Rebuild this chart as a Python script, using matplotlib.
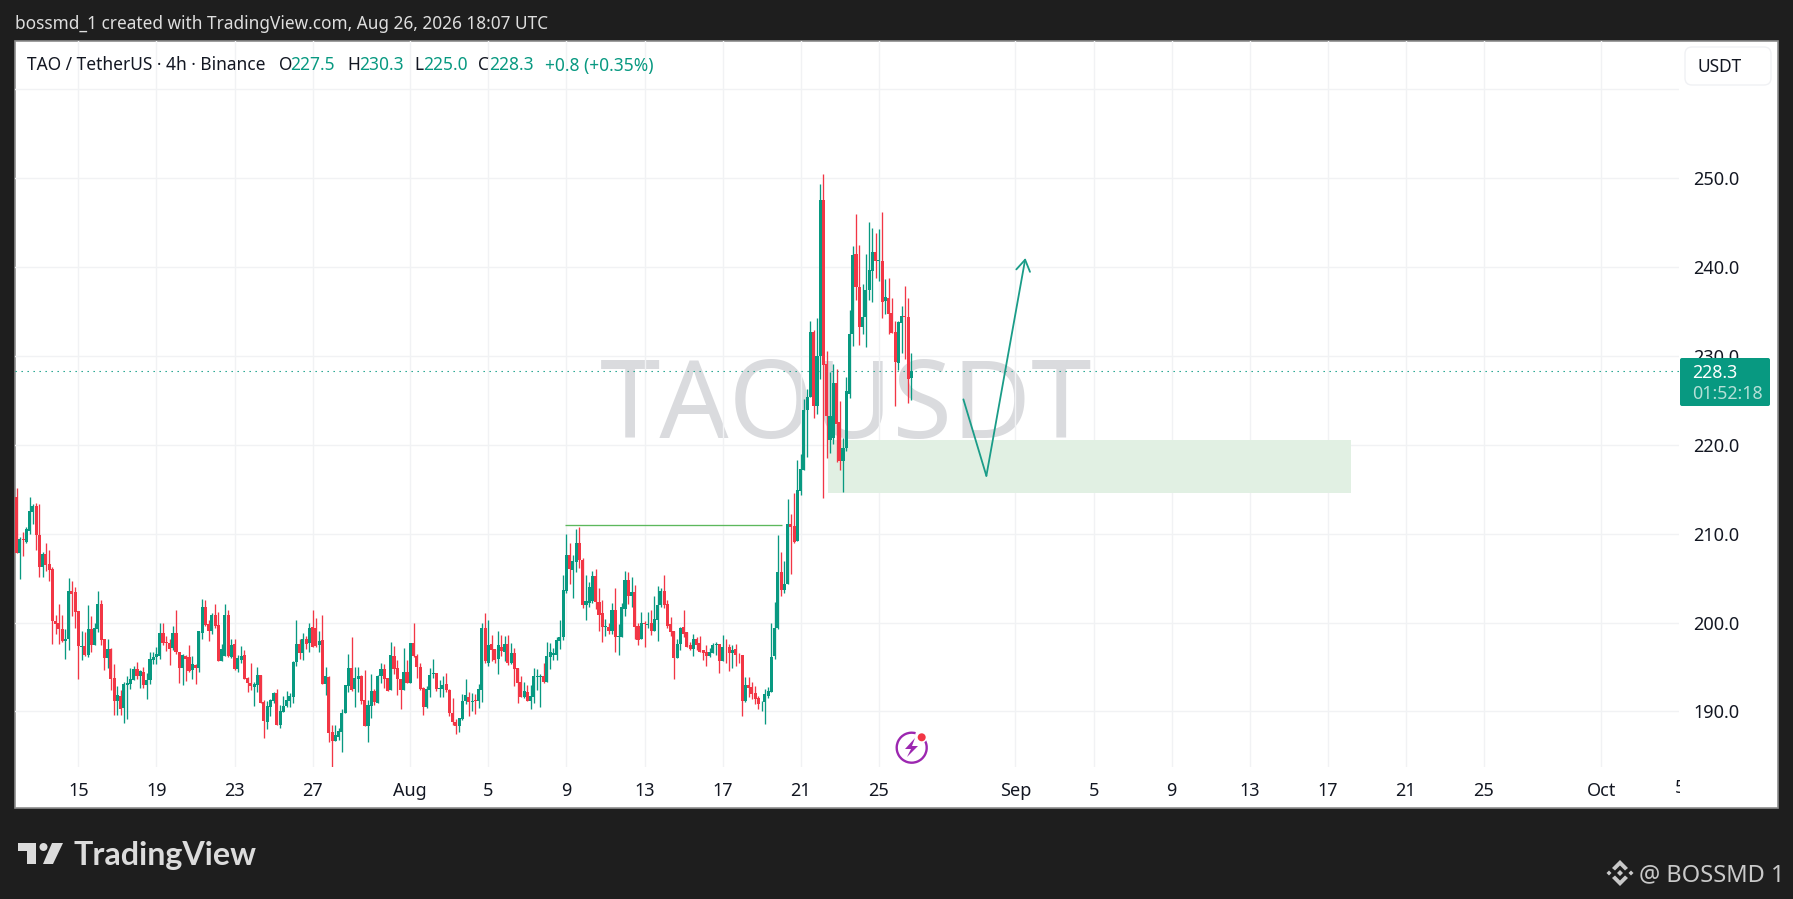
import numpy as np
import pandas as pd
import matplotlib
matplotlib.use("Agg")
import matplotlib.pyplot as plt
import matplotlib.dates as mdates
from matplotlib.patches import Rectangle, FancyBboxPatch, Polygon, Circle, Arc
from matplotlib.transforms import Bbox

# ---------- data ----------
first_candle = "2026-07-11 20:00"
opens = [214.1,207.8,209.4,209.1,210.3,212.4,213.1,209.9,206.3,207.7,
206.6,206.0,200.2,200.0,199.3,197.9,198.1,203.6,203.4,201.3,
197.2,197.4,196.3,199.3,197.5,199.3,202.1,198.1,196.0,197.0,
193.8,191.2,191.7,190.4,193.0,193.1,193.5,194.8,194.0,194.4,
193.0,193.5,195.8,196.1,196.2,198.8,197.8,197.7,197.1,198.8,
196.7,194.9,196.2,196.1,194.7,195.2,194.9,198.8,201.7,199.8,
199.1,200.8,199.7,195.7,196.2,200.9,196.1,197.6,194.8,195.8,
196.3,193.8,193.2,192.7,193.0,194.1,191.1,188.8,190.5,191.2,
192.1,188.5,189.9,190.6,191.2,191.6,195.6,197.6,196.6,198.2,
197.7,199.5,199.4,197.5,198.0,193.1,193.9,187.7,186.7,187.1,
187.7,189.8,192.9,194.9,192.5,193.6,194.0,191.3,188.4,190.6,
192.3,190.9,194.0,194.8,193.8,192.4,196.2,194.9,193.6,192.4,
194.4,193.2,197.7,196.2,195.0,192.6,190.5,192.4,194.2,194.3,
192.5,192.5,193.1,192.4,189.8,188.8,188.4,189.1,191.2,191.6,
191.1,191.3,191.2,192.4,199.4,195.5,197.6,197.0,195.9,197.3,
196.7,197.6,195.5,196.6,194.9,193.3,191.6,192.2,191.2,191.6,
193.9,193.9,194.0,193.3,196.1,196.4,196.4,197.9,198.4,203.6,
207.6,205.9,206.8,208.9,207.0,202.0,202.2,202.4,205.2,202.3,
201.1,199.5,199.5,199.1,201.4,198.4,198.4,201.5,204.8,203.0,
203.4,199.6,198.1,199.9,199.7,199.9,199.1,200.3,202.0,203.6,
202.1,199.8,199.0,196.0,197.6,199.5,198.9,197.5,197.0,198.1,
197.7,196.9,196.7,196.2,196.6,197.5,197.6,195.7,197.3,197.2,
196.6,197.0,196.4,196.3,191.2,193.0,192.7,192.1,191.5,190.9,
191.1,191.7,192.2,196.2,199.4,205.7,203.7,204.3,211.1,210.9,
209.2,214.8,217.2,223.9,225.4,232.7,224.4,230.0,247.5,229.1,
220.5,220.7,226.9,222.5,218.2,219.6,225.7,232.5,241.4,237.7,
233.2,234.4,237.4,239.5,241.7,240.7,240.7,236.2,236.5,234.8,
232.7,229.2,233.7,234.5,234.4,227.5]
highs = [215.1,209.6,210.2,210.8,214.1,213.3,213.5,213.3,207.9,209.0,
208.2,206.3,200.8,202.1,200.8,199.3,205.0,204.7,204.0,201.3,
199.1,198.9,202.0,200.7,199.9,203.5,202.5,198.2,198.1,197.1,
195.3,192.9,192.4,193.3,194.0,194.9,195.1,195.6,194.7,195.0,
194.3,196.7,196.7,197.2,199.9,200.0,198.5,198.1,199.6,201.4,
196.7,196.5,196.3,197.5,196.2,195.3,199.0,202.7,202.5,200.3,
201.1,202.1,201.2,197.6,202.1,201.4,198.1,198.1,196.3,197.4,
196.9,193.9,195.4,193.3,195.0,194.1,191.3,191.2,191.4,192.2,
192.5,190.7,191.7,192.3,192.1,195.7,200.3,198.1,198.8,198.5,
200.0,201.4,200.5,199.0,200.8,195.0,194.0,188.5,188.5,188.1,
190.3,193.0,196.5,198.4,195.0,195.0,194.1,194.7,191.3,194.2,
192.5,194.1,195.4,195.3,193.8,197.8,197.4,195.8,193.6,197.1,
195.8,197.7,199.9,196.5,195.4,192.7,192.9,194.9,195.9,194.3,
193.5,194.0,194.3,192.5,191.5,189.1,189.3,192.0,193.6,192.2,
192.1,192.0,193.1,200.0,201.1,200.3,198.6,197.0,199.0,198.6,
198.5,198.6,197.7,197.1,194.9,194.0,193.3,193.0,193.0,194.9,
194.8,194.2,195.4,197.8,197.7,197.1,198.4,200.3,205.4,210.0,
209.0,207.6,210.5,210.8,207.3,205.3,204.6,205.8,206.0,203.9,
202.5,200.4,199.9,202.2,203.9,199.8,202.2,205.8,205.7,205.1,
204.2,199.9,201.2,200.2,201.2,201.4,203.0,204.1,203.9,205.3,
202.5,200.6,199.1,198.2,199.5,201.4,198.9,197.8,198.7,198.4,
198.5,196.9,197.5,197.1,197.7,197.8,197.6,198.6,198.2,197.6,
197.5,197.6,196.6,196.3,193.9,193.9,193.3,192.9,191.7,191.2,
192.5,192.7,200.0,202.3,209.9,207.9,206.9,213.9,212.2,214.6,
218.3,218.9,225.1,226.3,233.9,232.9,234.3,249.3,250.4,230.5,
228.2,229.1,228.5,224.9,220.8,227.6,235.1,242.3,246.0,242.5,
238.1,241.5,245.0,244.4,243.8,244.3,246.2,238.6,238.8,236.5,
233.9,233.9,235.6,237.8,236.5,230.3]
lows = [207.8,204.9,207.5,209.0,210.0,211.1,208.2,205.1,205.1,205.8,
204.7,197.6,198.7,197.6,197.8,195.9,196.9,200.7,199.4,193.6,
195.8,196.2,196.1,196.7,197.5,198.9,197.5,194.7,194.9,192.4,
189.6,189.6,189.6,188.7,189.1,192.5,193.5,193.6,192.6,192.6,
191.4,193.1,195.3,195.3,195.9,197.5,196.8,195.2,196.9,196.5,
193.2,193.0,193.4,194.4,193.6,193.1,194.4,198.2,199.6,197.9,
198.7,199.4,195.7,195.7,196.2,196.1,196.0,194.7,194.4,195.4,
193.6,192.2,192.4,190.6,192.2,190.9,187.0,188.0,189.5,190.9,
188.5,188.1,189.9,190.5,190.5,190.9,195.1,195.9,195.8,197.0,
196.7,197.2,197.2,196.7,193.1,191.8,186.6,183.8,186.7,186.8,
185.4,189.8,192.2,192.3,190.5,192.2,190.8,188.4,186.6,189.3,
190.7,190.9,193.2,192.6,192.3,192.4,194.2,191.8,190.3,192.4,
193.2,193.2,196.1,193.8,192.4,189.6,190.4,191.6,193.8,192.3,
191.6,191.6,192.2,189.5,188.5,187.5,187.7,189.0,190.8,189.5,
190.0,189.7,190.4,191.1,195.4,195.1,195.7,195.5,194.2,196.2,
195.7,195.2,195.3,192.9,190.9,191.6,191.5,191.2,190.3,190.9,
192.4,190.5,193.2,193.3,194.8,195.8,195.8,197.0,198.0,203.3,
204.3,202.8,205.7,206.1,201.6,200.3,201.7,202.2,201.5,199.1,
197.8,198.5,198.7,198.7,196.7,196.3,198.4,200.7,202.1,201.7,
198.2,197.5,198.1,197.2,199.4,198.6,199.1,197.9,201.7,201.6,
199.4,198.5,193.7,196.0,196.9,198.4,197.3,196.9,196.2,196.9,
196.7,195.8,195.1,196.1,196.6,196.3,194.3,195.7,195.4,194.6,
194.9,195.1,195.5,189.5,191.1,191.6,191.4,190.8,190.3,190.0,
188.6,191.5,192.2,195.9,199.3,203.0,203.3,204.3,205.5,209.0,
209.2,214.4,217.2,218.6,225.4,223.0,223.4,227.4,214.0,218.5,
219.1,220.1,218.1,217.2,214.7,219.3,225.2,231.1,236.3,231.2,
232.5,231.0,236.3,236.1,238.8,238.4,234.3,234.7,232.4,232.6,
224.3,228.4,230.3,229.6,224.7,225.0]
closes = [207.8,209.4,209.3,210.5,212.5,213.1,209.8,206.3,207.7,206.5,
205.9,200.2,199.8,199.3,197.9,198.2,203.5,203.2,201.2,197.4,
197.4,196.3,199.3,197.5,199.4,202.1,198.0,196.0,197.0,193.6,
191.2,191.8,190.3,193.1,193.2,193.6,194.8,194.0,194.5,193.0,
193.5,195.9,196.1,196.5,198.8,197.7,197.7,197.0,198.8,196.7,
194.9,196.3,195.9,194.5,195.3,194.9,199.0,201.7,199.7,199.0,
200.9,199.6,195.7,197.0,200.9,196.2,197.5,194.8,196.0,196.2,
193.6,193.2,192.9,193.1,194.1,190.9,188.9,190.6,191.3,192.1,
188.5,190.0,190.6,191.3,191.7,195.6,197.6,196.6,198.1,197.6,
199.4,197.2,197.4,197.9,193.1,194.0,187.6,186.7,187.4,187.8,
189.8,193.0,194.9,192.4,193.8,194.0,191.2,188.4,190.7,192.3,
191.1,194.0,194.8,193.6,192.3,196.3,194.8,193.6,192.4,194.4,
193.2,197.7,196.2,195.0,192.5,190.5,192.5,194.1,194.3,192.5,
192.6,193.0,192.4,189.8,188.8,188.4,189.3,191.2,191.8,191.1,
191.2,191.2,192.5,199.4,195.7,197.5,196.9,195.8,197.5,196.8,
197.6,195.5,196.6,194.8,193.2,191.6,192.3,191.2,191.7,194.0,
194.0,194.0,193.3,196.2,196.7,196.6,198.0,198.4,203.7,207.6,
206.0,206.9,208.9,207.0,202.0,202.4,204.0,205.2,202.3,200.9,
199.5,199.6,199.1,201.4,198.4,198.5,201.7,204.8,203.0,203.4,
199.5,198.0,200.0,199.8,199.8,199.1,200.4,202.0,203.5,202.0,
199.6,198.9,196.0,197.6,199.4,198.7,197.3,197.0,198.1,197.5,
196.7,196.6,196.2,196.7,197.5,197.6,195.7,197.3,197.2,196.6,
196.9,196.4,196.3,191.2,193.0,192.6,192.0,191.4,190.8,191.0,
192.0,192.3,196.1,199.4,205.7,203.7,204.3,211.1,210.8,209.1,
214.9,217.3,223.9,225.4,232.7,224.4,230.0,247.5,229.0,223.2,
223.2,226.9,222.3,218.2,219.6,226.0,232.5,241.3,237.7,233.2,
234.4,237.4,239.6,241.7,240.7,240.8,236.1,236.6,234.7,232.6,
229.3,233.8,234.5,234.4,227.4,228.3]

last_price = 228.3
price_ticks = [190, 200, 210, 220, 230, 240, 250, 260]
price_labels = ["190.0", "200.0", "210.0", "220.0", "230.0", "240.0", "250.0", ""]
tick_dates = ["2026-07-15","2026-07-19","2026-07-23","2026-07-27","2026-08-01","2026-08-05",
              "2026-08-09","2026-08-13","2026-08-17","2026-08-21","2026-08-25","2026-09-01",
              "2026-09-05","2026-09-09","2026-09-13","2026-09-17","2026-09-21","2026-09-25","2026-10-01"]
tick_labels = ["15","19","23","27","Aug","5","9","13","17","21","25","Sep","5","9","13","17","21","25","Oct"]
clipped_tick = "5"

zone_dates = ["2026-08-22 09:36", "2026-09-18 04:40"]
zone_prices = [214.6, 220.5]
level_dates = ["2026-08-08 22:20", "2026-08-20 00:40"]
level_price = 211.0
path_dates = ["2026-08-29 08:00", "2026-08-30 12:15", "2026-09-01 12:15"]
path_prices = [225.1, 216.5, 241.0]

# ---------- palette ----------
UP, DOWN = "#089981", "#F23645"
DARK, INK = "#1e1e1e", "#131722"
GRID = "#f1f2f4"
FONT = ["Noto Sans", "DejaVu Sans"]
plt.rcParams["font.family"] = FONT

W, H = 1793, 899
fig = plt.figure(figsize=(W / 100, H / 100), dpi=100, facecolor=DARK)

# pixel-space layer below the chart
bg = fig.add_axes([0, 0, 1, 1], zorder=0)
bg.set_xlim(0, W); bg.set_ylim(H, 0); bg.axis("off")
bg.add_patch(Rectangle((15, 41), 1762.5, 767, fc="white", ec="#8c8c8c", lw=1.2))
bg.text(846, 410, "TAOUSDT", fontsize=78, color="#dadbde", ha="center", va="center")

# main chart
L, R, T, B = 15, 1679, 41, 767
ax = fig.add_axes([L / W, 1 - B / H, (R - L) / W, (B - T) / H], zorder=1)
ax.patch.set_visible(False)
for s in ax.spines.values():
    s.set_visible(False)

times = pd.date_range(first_candle, periods=len(closes), freq="4h")
x = mdates.date2num(times)
o, h, l, c = map(np.array, (opens, highs, lows, closes))
colors = np.where(c >= o, UP, DOWN)

zero = mdates.date2num(pd.Timestamp("2026-07-15"))
ax.set_xlim(zero - 3.248, zero + 81.99)
ax.set_ylim(183.75, 265.41)

ax.set_xticks(mdates.date2num(pd.to_datetime(tick_dates)))
ax.set_xticklabels(tick_labels)
ax.set_yticks(price_ticks)
ax.set_yticklabels(price_labels)
ax.yaxis.tick_right()
ax.tick_params(axis="x", length=0, pad=10.5, labelsize=13, labelcolor=INK)
ax.tick_params(axis="y", length=0, pad=10.5, labelsize=13, labelcolor=INK)
for lab in ax.get_yticklabels():
    lab.set_ha("left")
ax.grid(True, color=GRID, lw=1.0, zorder=0)
ax.set_axisbelow(True)

# drawings
zx = mdates.date2num(pd.to_datetime(zone_dates))
ax.add_patch(Rectangle((zx[0], zone_prices[0]), zx[1] - zx[0], zone_prices[1] - zone_prices[0],
                       fc="#e0f0e2", ec="none", alpha=0.94, zorder=1))
lx = mdates.date2num(pd.to_datetime(level_dates))
ax.plot(lx, [level_price, level_price], color="#5cb85c", lw=0.95, zorder=4, solid_capstyle="butt")

# candles
ax.vlines(x, l, h, colors=colors, lw=0.95, zorder=2)
ax.bar(x, np.abs(c - o), bottom=np.minimum(o, c), width=0.157, color=colors, lw=0, zorder=3)

# last price line
ax.axhline(last_price, color=UP, lw=0.8, ls=(0, (1.2, 4.2)), zorder=2.5)

# path with arrow head
px = mdates.date2num(pd.to_datetime(path_dates))
ax.plot(px[:2], path_prices[:2], color="#1a9c88", lw=1.3, zorder=5, solid_capstyle="round")
ax.annotate("", xy=(px[2], path_prices[2]), xytext=(px[1], path_prices[1]), zorder=5,
            arrowprops=dict(arrowstyle="->,head_length=0.8,head_width=0.5", color="#1a9c88",
                            lw=1.3, shrinkA=0, shrinkB=0))

# pixel-space layer above the chart
top = fig.add_axes([0, 0, 1, 1], zorder=2)
top.set_xlim(0, W); top.set_ylim(H, 0); top.axis("off"); top.patch.set_visible(False)

# clipped last date label
cl = top.text(1680, 788, clipped_tick, ha="center", va="center", fontsize=13, color=INK, clip_on=True)
cl.set_clip_box(Bbox([[0, 0], [1679.5, H]]))

# header
top.text(15, 24, "bossmd_1 created with TradingView.com, Aug 26, 2026 18:07 UTC", color="#dedede",
         fontsize=12.4, va="center", ha="left")

# legend
for tx, s, col in [(27, "TAO / TetherUS · 4h · Binance", INK), (279, "O", INK), (290, "227.5", UP),
                   (347, "H", INK), (359, "230.3", UP), (414, "L", INK), (423, "225.0", UP),
                   (478, "C", INK), (489, "228.3", UP), (545, "+0.8 (+0.35%)", UP)]:
    top.text(tx, 65.5, s, color=col, fontsize=12.5, va="center", ha="left")

# currency button
top.add_patch(FancyBboxPatch((1689, 51), 78, 30, boxstyle="round,pad=4,rounding_size=7",
                             fc="white", ec="#f0f1f4", lw=1))
top.text(1719.5, 66.5, "USDT", color=INK, fontsize=12.5, ha="center", va="center")

# price label
top.add_patch(FancyBboxPatch((1682, 360), 86, 44, boxstyle="round,pad=2,rounding_size=2", fc=UP, ec="none"))
top.text(1692.5, 373.5, "228.3", color="white", fontsize=12.8, ha="left", va="center")
top.text(1692.5, 394, "01:52:18", color="#b5e0d7", fontsize=12.8, ha="left", va="center")

# lightning badge
top.add_patch(Arc((911.7, 747.7), 30, 30, theta1=-30, theta2=285, color="#9c27b0", lw=1.7))
top.add_patch(Polygon([(915, 738), (905, 749), (911, 749), (907, 757), (918, 746), (912, 746)],
                      closed=True, fc="#9c27b0", ec="none"))
top.add_patch(Circle((921.7, 737.3), 5.5, fc="white", ec="none"))
top.add_patch(Circle((921.7, 737.3), 4, fc=DOWN, ec="none"))

# TradingView footer
LOGO = "#dcdcdc"
top.add_patch(Polygon([(18, 843), (36, 843), (36, 864), (27, 864), (27, 851), (18, 851)], fc=LOGO, ec="none"))
top.add_patch(Circle((43.5, 847), 4, fc=LOGO, ec="none"))
top.add_patch(Polygon([(52, 843), (63, 843), (53, 864), (43, 864)], fc=LOGO, ec="none"))
top.text(73, 855.5, "TradingView", color=LOGO, fontsize=23.2, ha="left", va="center",
         family=["Lato", "DejaVu Sans"], fontweight="bold")

# Binance mark and author
MARK = "#c9c9c9"
cx, cy = 1620, 873
top.add_patch(Polygon([(cx, cy - 13), (cx + 8, cy - 5), (cx + 5, cy - 2.5), (cx, cy - 7.5), (cx - 5, cy - 2.5), (cx - 8, cy - 5)], fc=MARK, ec="none"))
top.add_patch(Polygon([(cx, cy + 13), (cx + 8, cy + 5), (cx + 5, cy + 2.5), (cx, cy + 7.5), (cx - 5, cy + 2.5), (cx - 8, cy + 5)], fc=MARK, ec="none"))
top.add_patch(Polygon([(cx, cy - 3), (cx + 3, cy), (cx, cy + 3), (cx - 3, cy)], fc=MARK, ec="none"))
for dx in (-11, 11):
    top.add_patch(Polygon([(cx + dx, cy - 2.5), (cx + dx + 2.5, cy), (cx + dx, cy + 2.5), (cx + dx - 2.5, cy)], fc=MARK, ec="none"))
top.text(1639, 875, "@ BOSSMD 1", color=MARK, fontsize=17, ha="left", va="center")

fig.savefig("out.png", dpi=100, facecolor=DARK)
